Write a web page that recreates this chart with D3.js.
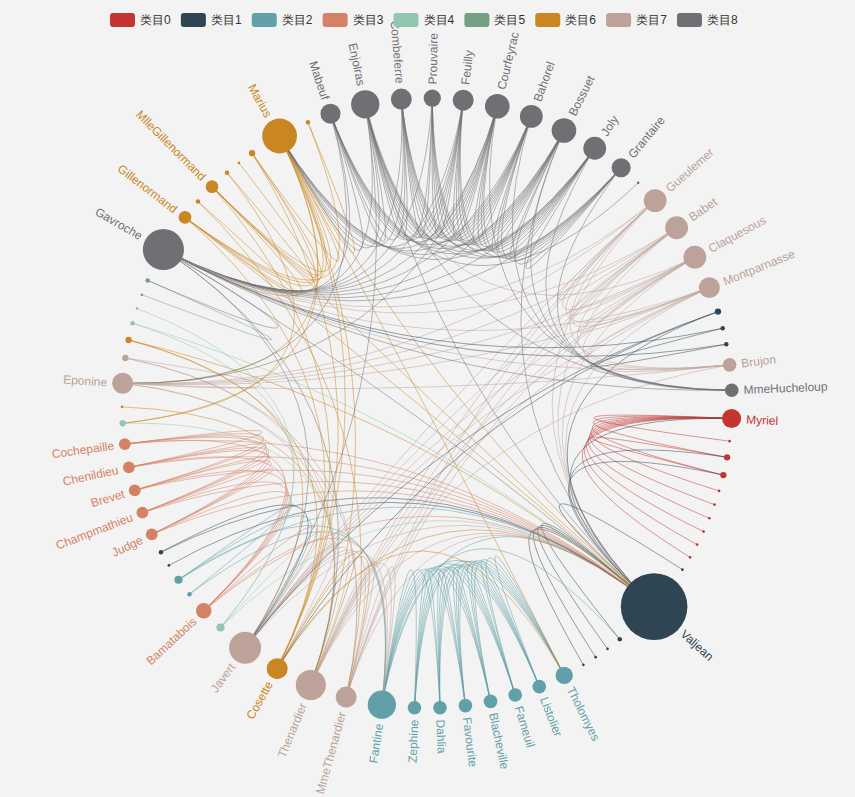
<!DOCTYPE html>
<html>
<head>
<meta charset="utf-8">
<script src="https://cdn.jsdelivr.net/npm/d3@7"></script>
<style>
  body { margin: 0; background: #f3f3f3; }
  svg { display: block; font-family: sans-serif; }
</style>
</head>
<body>
<svg id="chart"></svg>
<script>
const categories = ['类目0', '类目1', '类目2', '类目3', '类目4', '类目5', '类目6', '类目7', '类目8'];
const palette = ['#c23531', '#2f4554', '#61a0a8', '#d48265', '#91c7ae', '#749f83', '#ca8622', '#bda29a', '#6e7074'];

const nodeNames = ['Myriel','Napoleon','MlleBaptistine','MmeMagloire','CountessDeLo','Geborand','Champtercier','Cravatte','Count','OldMan',
  'Labarre','Valjean','Marguerite','MmeDeR','Isabeau','Gervais','Tholomyes','Listolier','Fameuil','Blacheville',
  'Favourite','Dahlia','Zephine','Fantine','MmeThenardier','Thenardier','Cosette','Javert','Fauchelevent','Bamatabois',
  'Perpetue','Simplice','Scaufflaire','Woman1','Judge','Champmathieu','Brevet','Chenildieu','Cochepaille','Pontmercy',
  'Boulatruelle','Eponine','Anzelma','Woman2','MotherInnocent','Gribier','Jondrette','MmeBurgon','Gavroche','Gillenormand',
  'Magnon','MlleGillenormand','MmePontmercy','MlleVaubois','LtGillenormand','Marius','BaronessT','Mabeuf','Enjolras','Combeferre',
  'Prouvaire','Feuilly','Courfeyrac','Bahorel','Bossuet','Joly','Grantaire','MotherPlutarch','Gueulemer','Babet',
  'Claquesous','Montparnasse','Toussaint','Child1','Child2','Brujon','MmeHucheloup'];
const nodeValues = [28.69,4,9.49,9.49,4,4,4,4,4,4,
  4,100,6.74,4,4,4,25.94,20.46,20.46,20.46,
  20.46,20.46,20.46,42.4,31.43,45.14,31.43,47.89,12.23,23.2,
  6.74,12.23,4,6.74,17.71,17.71,17.71,17.71,17.71,9.49,
  4,31.43,9.49,9.49,6.74,4,4,6.74,61.6,19.09,
  6.74,19.09,6.74,4,9.49,52.23,6.74,30.06,42.4,31.43,
  25.94,31.43,36.91,34.17,36.91,34.17,28.69,4,34.17,34.17,
  34.17,31.43,9.49,6.74,6.74,20.46,20.46];
const nodeCategories = [0,0,0,0,0,0,0,0,0,0,
  1,1,1,1,1,1,2,2,2,2,
  2,2,2,2,7,7,6,7,4,3,
  2,2,1,1,3,3,3,3,3,4,
  6,7,7,6,4,4,5,5,8,6,
  6,6,6,6,6,6,6,8,8,8,
  8,8,8,8,8,8,8,8,7,7,
  7,7,1,1,1,7,8];
const links = [[1,0],[2,0],[3,0],[3,2],[4,0],[5,0],[6,0],[7,0],[8,0],[9,0],[11,10],[11,3],[11,2],[11,0],[12,11],[13,11],[14,11],[15,11],
  [17,16],[18,16],[18,17],[19,16],[19,17],[19,18],[20,16],[20,17],[20,18],[20,19],[21,16],[21,17],[21,18],[21,19],[21,20],
  [22,16],[22,17],[22,18],[22,19],[22,20],[22,21],[23,16],[23,17],[23,18],[23,19],[23,20],[23,21],[23,22],[23,12],[23,11],
  [24,23],[24,11],[25,24],[25,23],[25,11],[26,24],[26,11],[26,16],[26,25],[27,11],[27,23],[27,25],[27,24],[27,26],[28,11],[28,27],
  [29,23],[29,27],[29,11],[30,23],[31,30],[31,11],[31,23],[31,27],[32,11],[33,11],[33,27],[34,11],[34,29],[35,11],[35,34],[35,29],
  [36,34],[36,35],[36,11],[36,29],[37,34],[37,35],[37,36],[37,11],[37,29],[38,34],[38,35],[38,36],[38,37],[38,11],[38,29],
  [39,25],[40,25],[41,24],[41,25],[42,41],[42,25],[42,24],[43,11],[43,26],[43,27],[44,28],[44,11],[45,28],[47,46],[48,47],[48,25],
  [48,27],[48,11],[49,26],[49,11],[50,49],[50,24],[51,49],[51,26],[51,11],[52,51],[52,39],[53,51],[54,51],[54,49],[54,26],
  [55,51],[55,49],[55,39],[55,54],[55,26],[55,11],[55,16],[55,25],[55,41],[55,48],[56,49],[56,55],[57,55],[57,41],[57,48],
  [58,55],[58,48],[58,27],[58,57],[58,11],[59,58],[59,55],[59,48],[59,57],[60,48],[60,58],[60,59],[61,48],[61,58],[61,60],[61,59],[61,57],[61,55],
  [62,55],[62,58],[62,59],[62,48],[62,57],[62,41],[62,61],[62,60],[63,59],[63,48],[63,62],[63,57],[63,58],[63,61],[63,60],[63,55],
  [64,55],[64,62],[64,48],[64,63],[64,58],[64,61],[64,60],[64,59],[64,57],[64,11],[65,63],[65,64],[65,48],[65,62],[65,58],[65,61],[65,60],[65,59],[65,57],[65,55],
  [66,64],[66,58],[66,59],[66,62],[66,65],[66,48],[66,63],[66,61],[66,60],[67,57],[68,25],[68,11],[68,24],[68,27],[68,48],[68,41],
  [69,25],[69,68],[69,11],[69,24],[69,27],[69,48],[69,41],[70,25],[70,69],[70,68],[70,11],[70,24],[70,27],[70,41],[70,58],
  [71,27],[71,69],[71,68],[71,70],[71,11],[71,48],[71,41],[71,25],[72,26],[72,27],[72,11],[73,48],[74,48],[74,73],
  [75,69],[75,68],[75,25],[75,48],[75,41],[75,70],[75,71],[76,64],[76,65],[76,66],[76,63],[76,62],[76,48],[76,58]];

const width = 855, height = 797;
const cx = 427, cy = 403, r = 305;

const svg = d3.select('#chart').attr('width', width).attr('height', height);
svg.append('rect').attr('width', width).attr('height', height).attr('fill', '#f3f3f3');

// node size from value, angular slot = symbol size + equal gap
const sizeScale = d3.scaleLinear().domain([0, 1.5]).range([0, 1]);
const nodes = nodeNames.map((name, i) => ({ name, value: nodeValues[i], cat: nodeCategories[i], size: sizeScale(nodeValues[i]) }));
const halfRad = nodes.map(d => Math.asin(d.size / 2 / r));
const gap = (2 * Math.PI - d3.sum(halfRad) * 2) / nodes.length / 2;
let angle = 0;
nodes.forEach((d, i) => {
  angle += gap + halfRad[i];
  d.angle = angle;
  d.x = cx + r * Math.cos(angle);
  d.y = cy + r * Math.sin(angle);
  angle += gap + halfRad[i];
});

// edges bend toward the center
const edgeG = svg.append('g');
edgeG.selectAll('path').data(links).join('path')
  .attr('d', ([s, t]) => {
    const a = nodes[s], b = nodes[t];
    const k = 0.9;
    const qx = cx * k + (a.x + b.x) / 2 * (1 - k);
    const qy = cy * k + (a.y + b.y) / 2 * (1 - k);
    return `M${a.x},${a.y}Q${qx},${qy} ${b.x},${b.y}`;
  })
  .attr('fill', 'none')
  .attr('stroke', ([s]) => palette[nodes[s].cat])
  .attr('stroke-opacity', 0.5)
  .attr('stroke-width', 1);

svg.append('g').selectAll('circle').data(nodes).join('circle')
  .attr('cx', d => d.x).attr('cy', d => d.y)
  .attr('r', d => d.size / 2)
  .attr('fill', d => palette[d.cat]);

// radial labels
svg.append('g').selectAll('text').data(nodes.filter(d => d.size > 10)).join('text')
  .attr('transform', d => {
    const dist = d.size / 2 + 5;
    const x = d.x + dist * Math.cos(d.angle), y = d.y + dist * Math.sin(d.angle);
    const left = d.angle > Math.PI / 2 && d.angle < Math.PI * 1.5;
    const deg = d.angle * 180 / Math.PI + (left ? 180 : 0);
    return `translate(${x},${y}) rotate(${deg})`;
  })
  .attr('text-anchor', d => (d.angle > Math.PI / 2 && d.angle < Math.PI * 1.5) ? 'end' : 'start')
  .attr('dy', '0.35em')
  .attr('font-size', 12)
  .attr('fill', d => palette[d.cat])
  .text(d => d.name);

// legend
const legendX = d3.scalePoint().domain(categories).range([110, 677]);
const legend = svg.append('g').selectAll('g').data(categories).join('g')
  .attr('transform', d => `translate(${legendX(d)},13)`);
legend.append('rect').attr('width', 25).attr('height', 14).attr('rx', 3)
  .attr('fill', (d, i) => palette[i]);
legend.append('text').attr('x', 30).attr('y', 7).attr('dy', '0.35em')
  .attr('font-size', 12).attr('fill', '#333').text(d => d);
</script>
</body>
</html>
